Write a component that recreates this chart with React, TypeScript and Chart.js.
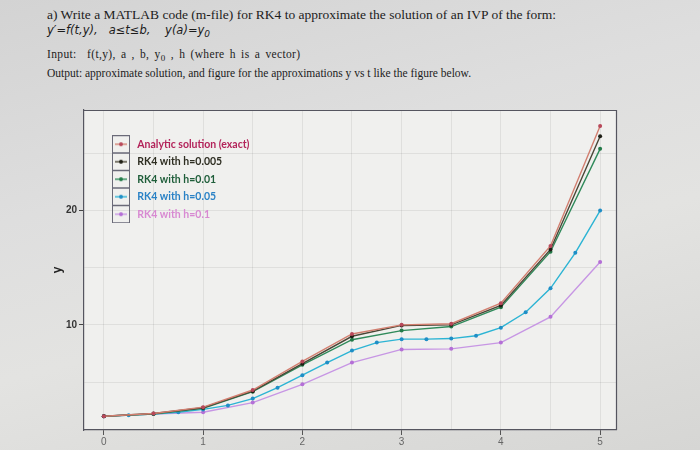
import React, { useEffect, useRef } from "react";
import { Chart, registerables } from "chart.js";

Chart.register(...registerables);

// ---------- data ----------
const tHalf = [0, 0.5, 1, 1.5, 2, 2.5, 3, 3.5, 4, 4.5, 5];
const tQuarter = [0, 0.25, 0.5, 0.75, 1, 1.25, 1.5, 1.75, 2, 2.25, 2.5, 2.75, 3, 3.25, 3.5, 3.75, 4, 4.25, 4.5, 4.75, 5];

const yExact = [2.0, 2.25, 2.8, 4.3, 6.8, 9.2, 10.0, 10.1, 11.9, 16.9, 27.4];
const yH0005 = [2.0, 2.25, 2.75, 4.2, 6.6, 9.0, 9.95, 10.0, 11.7, 16.6, 26.5];
const yH001 = [2.0, 2.2, 2.7, 4.15, 6.5, 8.7, 9.5, 9.85, 11.55, 16.4, 25.4];
const yH005 = [2.0, 2.1, 2.2, 2.35, 2.6, 2.95, 3.55, 4.5, 5.6, 6.7, 7.75, 8.45, 8.75, 8.75, 8.8, 9.05, 9.75, 11.1, 13.2, 16.3, 20.0];
const yH01 = [2.0, 2.2, 2.35, 3.2, 4.8, 6.7, 7.85, 7.9, 8.45, 10.7, 15.5];

const seriesLabels = [
  "Analytic solution (exact)",
  "RK4 with h=0.005",
  "RK4 with h=0.01",
  "RK4 with h=0.05",
  "RK4 with h=0.1",
];

const xTickValues = [0, 0.5, 1, 1.5, 2, 2.5, 3, 3.5, 4, 4.5, 5];
const xTickLabels = ["0", "", "1", "", "2", "", "3", "", "4", "", "5"];
const yTickValues = [5, 10, 15, 20, 25];
const yTickLabels = ["", "10", "", "20", ""];

// ---------- styles ----------
const lineColors = ["#d27f70", "#4a4636", "#2f8a5a", "#2cb4d4", "#c796e4"];
const markerColors = ["#b8485a", "#1e1e14", "#237a48", "#1f8ec6", "#b46fd6"];
const textColors = ["#b3235a", "#2e2e22", "#1f5e3a", "#2a82c6", "#d88ad2"];

function makeIcon(lineColor: string, markerColor: string) {
  const c = document.createElement("canvas");
  c.width = 37;
  c.height = 18;
  const g = c.getContext("2d")!;
  g.strokeStyle = "#6a6a78";
  g.lineWidth = 1;
  g.strokeRect(19.5, 0.5, 17, 17);
  g.strokeStyle = lineColor;
  g.lineWidth = 1.4;
  g.beginPath();
  g.moveTo(22, 9);
  g.lineTo(34, 9);
  g.stroke();
  g.fillStyle = markerColor;
  g.beginPath();
  g.arc(28, 9, 2, 0, Math.PI * 2);
  g.fill();
  return c;
}

const zip = (xs: number[], ys: number[]) => xs.map((x, i) => ({ x, y: ys[i] }));

export default function App() {
  const ref = useRef<HTMLCanvasElement | null>(null);

  useEffect(() => {
    if (!ref.current) return;
    const icons = lineColors.map((c, i) => makeIcon(c, markerColors[i]));
    const xsList = [tHalf, tHalf, tHalf, tQuarter, tHalf];
    const ysList = [yExact, yH0005, yH001, yH005, yH01];

    const plotFrame = {
      id: "plotFrame",
      beforeDraw(chart: any) {
        const { ctx, chartArea: a } = chart;
        ctx.save();
        ctx.fillStyle = "#f0f0ee";
        ctx.fillRect(a.left, a.top, a.right - a.left, a.bottom - a.top);
        ctx.restore();
      },
      afterDatasetsDraw(chart: any) {
        const { ctx, chartArea: a } = chart;
        ctx.save();
        ctx.strokeStyle = "#55555f";
        ctx.lineWidth = 1.2;
        ctx.beginPath();
        ctx.moveTo(a.left, a.top + 0.5);
        ctx.lineTo(a.right + 0.5, a.top + 0.5);
        ctx.lineTo(a.right + 0.5, a.bottom);
        ctx.stroke();
        ctx.restore();
      },
    };

    const chart = new Chart(ref.current, {
      type: "line",
      data: {
        datasets: seriesLabels.map((label, i) => ({
          label,
          data: zip(xsList[i], ysList[i]),
          borderColor: lineColors[i],
          backgroundColor: markerColors[i],
          pointBackgroundColor: markerColors[i],
          pointBorderColor: markerColors[i],
          pointRadius: 2,
          pointBorderWidth: 0,
          borderWidth: 1.4,
          tension: 0,
          fill: false,
        })),
      },
      plugins: [plotFrame],
      options: {
        responsive: false,
        animation: false,
        layout: { padding: { left: 44, top: 110, right: 84, bottom: 0 } },
        plugins: {
          tooltip: { enabled: false },
          legend: {
            position: "chartArea",
            align: "start",
            title: { display: true, text: " ", font: { size: 1 }, padding: { top: 130.8, bottom: 0 } },
            labels: {
              usePointStyle: true,
              pointStyleWidth: 41,
              padding: 7,
              font: { family: "Lato", size: 10.5, weight: "bold" },
              generateLabels: () =>
                seriesLabels.map((text, i) => ({
                  text,
                  fillStyle: markerColors[i],
                  strokeStyle: lineColors[i],
                  lineWidth: 0,
                  pointStyle: icons[i],
                  fontColor: textColors[i],
                  datasetIndex: i,
                  hidden: false,
                })) as any,
            },
          },
        },
        scales: {
          x: {
            type: "linear",
            min: -0.2,
            max: 5.16,
            afterFit: (s: any) => {
              s.height = 50;
            },
            afterBuildTicks: (s: any) => {
              s.ticks = xTickValues.map((v) => ({ value: v }));
            },
            ticks: {
              autoSkip: false,
              maxRotation: 0,
              padding: 1,
              color: "#666",
              font: { family: "Liberation Sans", size: 10 },
              callback: (_v: any, i: number) => xTickLabels[i],
            },
            grid: {
              color: "rgba(60,60,60,0.09)",
              tickLength: 5,
              tickColor: (c: any) => (xTickLabels[c.index] ? "#555" : "rgba(0,0,0,0)"),
            },
            border: { color: "#55555f", width: 1.2 },
            title: {
              display: true,
              text: "t",
              color: "#333",
              font: { family: "Liberation Sans", size: 12 },
              padding: { top: 0, bottom: 16 },
            },
          },
          y: {
            type: "linear",
            min: 0.8,
            max: 28.8,
            afterFit: (s: any) => {
              s.width = 40;
            },
            afterBuildTicks: (s: any) => {
              s.ticks = yTickValues.map((v) => ({ value: v }));
            },
            ticks: {
              padding: 2,
              color: "#333",
              font: { family: "Liberation Sans", size: 10, weight: "bold" },
              callback: (_v: any, i: number) => yTickLabels[i],
            },
            grid: {
              color: "rgba(60,60,60,0.09)",
              tickLength: 5,
              tickColor: (c: any) => (yTickLabels[c.index] ? "#444" : "rgba(0,0,0,0)"),
            },
            border: { color: "#55555f", width: 1.2 },
            title: {
              display: true,
              text: "y",
              color: "#222",
              font: { family: "Liberation Sans", size: 12, weight: "bold" },
              padding: { top: 6, bottom: 0 },
            },
          },
        },
      } as any,
    });
    return () => chart.destroy();
  }, []);

  const txt: React.CSSProperties = { position: "absolute", left: 47, whiteSpace: "nowrap", color: "#1c1c1c", lineHeight: 1 };

  return (
    <div
      style={{
        position: "fixed",
        left: 0,
        top: 0,
        width: 700,
        height: 450,
        overflow: "hidden",
        background: "linear-gradient(165deg, #d3d3d3 0%, #dedede 35%, #e3e3e1 60%, #d6d6d4 100%)",
      }}
    >
      <div style={{ ...txt, top: 8, fontFamily: '"Liberation Serif", serif', fontSize: 13.5 }}>
        a) Write a MATLAB code (m-file) for RK4 to approximate the solution of an IVP of the form:
      </div>
      <div style={{ ...txt, top: 25, fontFamily: '"DejaVu Sans", sans-serif', fontSize: 11.5, fontStyle: "italic" }}>
        y′=f(t,y),&nbsp;&nbsp; a≤t≤b,&nbsp;&nbsp;&nbsp; y(a)=y<sub style={{ fontSize: 9 }}>0</sub>
      </div>
      <div style={{ ...txt, top: 49, fontFamily: '"Liberation Serif", serif', fontSize: 11.5, letterSpacing: 0.35, wordSpacing: 2 }}>
        Input:&nbsp; f(t,y), a , b, y<sub style={{ fontSize: 9 }}>0</sub> , h (where h is a vector)
      </div>
      <div style={{ ...txt, top: 68, fontFamily: '"Liberation Serif", serif', fontSize: 11.5 }}>
        Output: approximate solution, and figure for the approximations y vs t like the figure below.
      </div>
      <canvas ref={ref} width={700} height={480} style={{ position: "absolute", left: 0, top: 0 }} />
    </div>
  );
}
